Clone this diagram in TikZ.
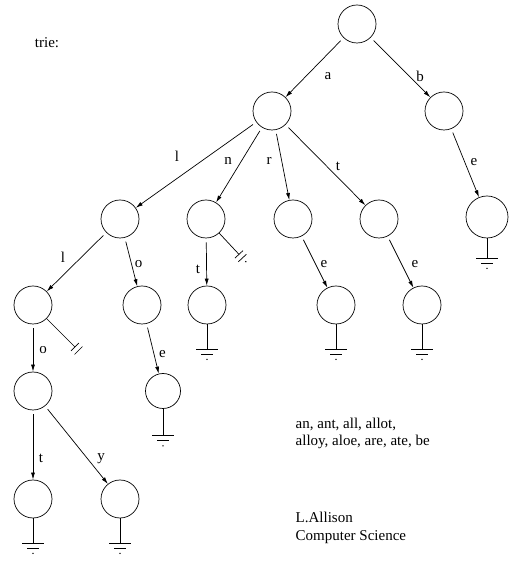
\documentclass[tikz,border=0pt]{standalone}
\usepackage{fontspec}
\setmainfont{Liberation Serif}
\usetikzlibrary{calc,positioning,arrows.meta}

\tikzset{
  earth/.pic={
    \draw (-11,0) -- (11,0);
    \draw (-6,-5) -- (6,-5);
    \fill (0,-10) circle (0.8);
  },
  nilmark/.pic={
    \draw (0,-5.5) -- (0,5.5);
    \draw (5,-5.5) -- (5,5.5);
  }
}

\begin{document}
\begin{tikzpicture}[x=1pt,y=1pt,line width=0.7pt,font=\fontsize{15}{18}\selectfont]
\useasboundingbox (0,0) rectangle (520,570);
\node (title) at (47,527){trie:};
% edge labels
\node at (328,494){a};
\node at (420,494){b};
\node at (177,414){l};
\node at (228,409){n};
\node at (269,409){r};
\node at (338,404){t};
\node at (474,408){e};
\node at (63,313){l};
\node at (138.5,306){o};
\node at (198,301){t};
\node at (324,306){e};
\node at (415,306){e};
\node at (43,220){o};
\node at (162.5,216){e};
\node at (41,112){t};
\node at (101,111){y};
% words and name
\node[anchor=west] (words1) at (292,146){an, ant, all, allot,};
\node[anchor=west] (words2) at (292,128){alloy, aloe, are, ate, be};
\node[anchor=west] (name) at (292,53){L.Allison};
\node[anchor=west] (dept) at (292,33){Computer Science};
\tikzstyle{every node}=[circle, draw, minimum size=38pt,
                        inner sep=0pt]
\node (root) at (357,546){};
\node (a) at (272,459){};
\node (b) at (444,459){};
\node (al) at (120,351){};
\node (an) at (206,351){};
\node (ar) at (293,351){};
\node (at) at (379,351){};
\node[minimum size=42pt] (be) at (487,353){};
\node (all) at (33,265){};
\node (alo) at (142,265){};
\node (ant) at (207,265){};
\node (are) at (336,265){};
\node (ate) at (422,265){};
\node (allo) at (33,179){};
\node[minimum size=35pt] (aloe) at (163,179){};
\node (allot) at (33,71){};
\node (alloy) at (120,71){};
\foreach \p/\c in {root/a,root/b,a/al,a/an,a/ar,a/at,b/be,al/all,al/alo,
                   an/ant,ar/are,at/ate,all/allo,alo/aloe,allo/allot,allo/alloy}{
	\draw[-{Latex[length=7pt,width=4pt]},shorten <=4pt] (\p) -- (\c);
	}
% ends of words
\foreach \n/\len in {ant/25,are/25,ate/25,be/20,aloe/27,allot/25,alloy/25}{
	\coordinate (\n-gnd) at ($(\n.south)+(0,-\len)$);
	\draw (\n.south) -- (\n-gnd);
	\pic at (\n-gnd) {earth};
	}
% nil pointers
\coordinate (all-nil) at ($(all.-45)+(-45:40)$);
\draw (all.-45) -- (all-nil);
\pic[rotate=-45] at (all-nil) {nilmark};
\coordinate (an-nil) at ($(an.-47)+(-47:29)$);
\draw (an.-47) -- (an-nil);
\pic[rotate=-47] at (an-nil) {nilmark};
\fill ($(an-nil)+(-47:10)$) circle (0.8);
\end{tikzpicture}
\end{document}
